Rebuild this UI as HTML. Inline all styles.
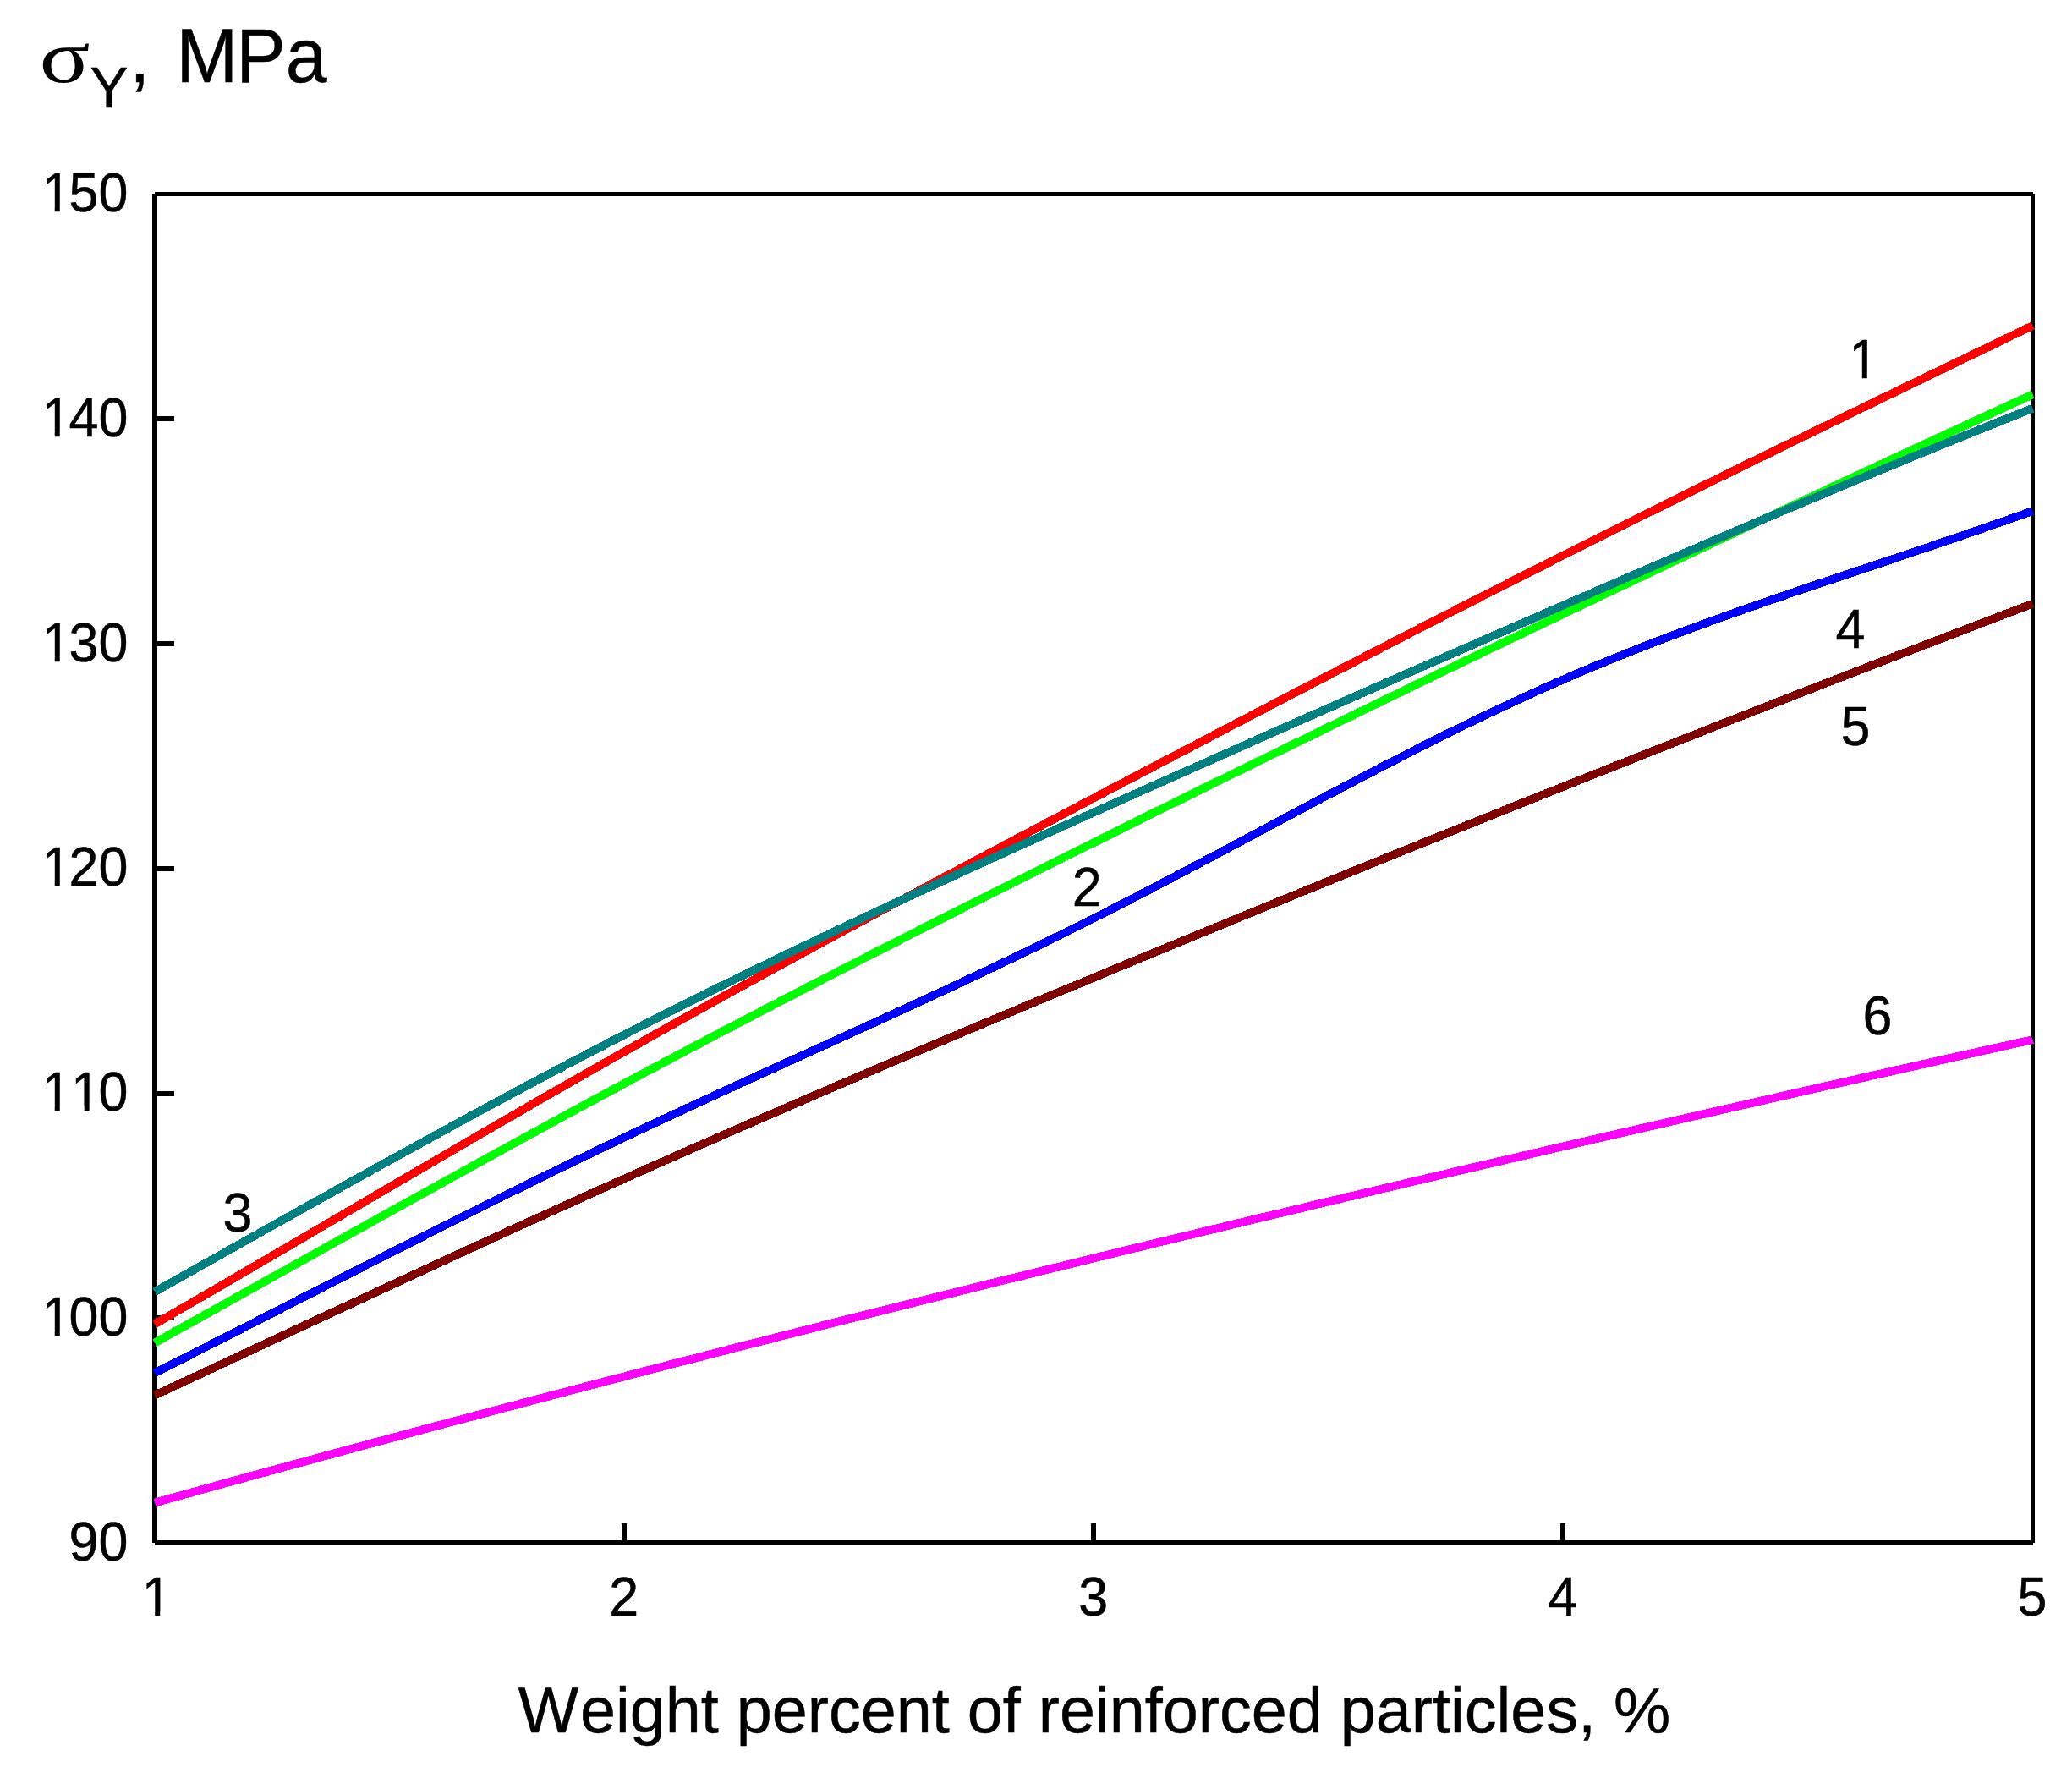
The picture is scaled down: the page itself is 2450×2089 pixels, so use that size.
<!DOCTYPE html>
<html lang="en">
<head>
<meta charset="utf-8">
<title>Yield stress vs weight percent of reinforced particles</title>
<style>
html,body{margin:0;padding:0;background:#fff;}
body{width:2450px;height:2089px;overflow:hidden;}
svg{display:block;}
text{font-family:"Liberation Sans",sans-serif;fill:#000;stroke:#000;stroke-width:0.5px;white-space:pre;font-kerning:none;}
.sym{font-family:"Liberation Serif",serif;stroke:none;}
.cv path{fill:none;stroke-width:9.7;stroke-linecap:butt;stroke-linejoin:round;}
</style>
</head>
<body>
<svg width="2450" height="2089" viewBox="0 0 2450 2089">
<rect x="0" y="0" width="2450" height="2089" fill="#ffffff"/>
<g fill="#000" shape-rendering="crispEdges">
<rect x="180" y="229" width="6" height="1595"/>
<rect x="2401" y="229" width="5" height="1595"/>
<rect x="183" y="227" width="2221" height="5"/>
<rect x="183" y="1821" width="2221" height="6"/>
<rect x="183" y="1555" width="23" height="6"/>
<rect x="183" y="1290" width="23" height="6"/>
<rect x="183" y="1024" width="23" height="6"/>
<rect x="183" y="758" width="23" height="6"/>
<rect x="183" y="492" width="23" height="6"/>
<rect x="735" y="1801" width="6" height="22"/>
<rect x="1290" y="1801" width="6" height="22"/>
<rect x="1845" y="1801" width="6" height="22"/>
</g>
<g class="cv" shape-rendering="crispEdges">
<path stroke="#ff0000" d="M183.0 1565.4 L195.0 1558.5 L207.0 1551.5 L219.0 1544.6 L231.0 1537.6 L243.0 1530.7 L255.0 1523.7 L267.0 1516.7 L279.0 1509.7 L291.0 1502.7 L303.0 1495.7 L315.0 1488.7 L327.0 1481.7 L339.0 1474.7 L351.0 1467.7 L363.0 1460.7 L375.0 1453.6 L387.0 1446.6 L399.0 1439.6 L411.0 1432.6 L423.0 1425.6 L435.0 1418.5 L447.0 1411.5 L459.0 1404.5 L471.0 1397.5 L483.0 1390.5 L495.0 1383.5 L507.0 1376.5 L519.0 1369.5 L531.0 1362.5 L543.0 1355.5 L555.0 1348.5 L567.0 1341.5 L579.0 1334.6 L591.0 1327.6 L603.0 1320.7 L615.0 1313.8 L627.0 1306.8 L639.0 1299.9 L651.0 1293.0 L663.0 1286.2 L675.0 1279.3 L687.0 1272.4 L699.0 1265.6 L711.0 1258.8 L723.0 1252.0 L735.0 1245.2 L747.0 1238.4 L759.0 1231.7 L771.0 1224.9 L783.0 1218.2 L795.0 1211.5 L807.0 1204.8 L819.0 1198.2 L831.0 1191.5 L843.0 1184.9 L855.0 1178.2 L867.0 1171.6 L879.0 1165.0 L891.0 1158.5 L903.0 1151.9 L915.0 1145.3 L927.0 1138.8 L939.0 1132.3 L951.0 1125.8 L963.0 1119.3 L975.0 1112.8 L987.0 1106.3 L999.0 1099.8 L1011.0 1093.4 L1023.0 1086.9 L1035.0 1080.5 L1047.0 1074.0 L1059.0 1067.6 L1071.0 1061.2 L1083.0 1054.8 L1095.0 1048.4 L1107.0 1042.0 L1119.0 1035.6 L1131.0 1029.3 L1143.0 1022.9 L1155.0 1016.5 L1167.0 1010.2 L1179.0 1003.8 L1191.0 997.5 L1203.0 991.1 L1215.0 984.8 L1227.0 978.5 L1239.0 972.1 L1251.0 965.8 L1263.0 959.5 L1275.0 953.2 L1287.0 946.9 L1299.0 940.6 L1311.0 934.2 L1323.0 927.9 L1335.0 921.6 L1347.0 915.3 L1359.0 909.0 L1371.0 902.7 L1383.0 896.4 L1395.0 890.2 L1407.0 883.9 L1419.0 877.6 L1431.0 871.3 L1443.0 865.0 L1455.0 858.8 L1467.0 852.5 L1479.0 846.2 L1491.0 840.0 L1503.0 833.7 L1515.0 827.5 L1527.0 821.2 L1539.0 815.0 L1551.0 808.8 L1563.0 802.5 L1575.0 796.3 L1587.0 790.1 L1599.0 783.9 L1611.0 777.7 L1623.0 771.5 L1635.0 765.3 L1647.0 759.1 L1659.0 753.0 L1671.0 746.8 L1683.0 740.6 L1695.0 734.5 L1707.0 728.3 L1719.0 722.2 L1731.0 716.1 L1743.0 710.0 L1755.0 703.8 L1767.0 697.7 L1779.0 691.7 L1791.0 685.6 L1803.0 679.5 L1815.0 673.4 L1827.0 667.4 L1839.0 661.3 L1851.0 655.3 L1863.0 649.3 L1875.0 643.2 L1887.0 637.2 L1899.0 631.2 L1911.0 625.2 L1923.0 619.3 L1935.0 613.3 L1947.0 607.3 L1959.0 601.4 L1971.0 595.4 L1983.0 589.5 L1995.0 583.6 L2007.0 577.6 L2019.0 571.7 L2031.0 565.8 L2043.0 559.9 L2055.0 554.0 L2067.0 548.1 L2079.0 542.3 L2091.0 536.4 L2103.0 530.5 L2115.0 524.7 L2127.0 518.8 L2139.0 512.9 L2151.0 507.1 L2163.0 501.3 L2175.0 495.4 L2187.0 489.6 L2199.0 483.8 L2211.0 477.9 L2223.0 472.1 L2235.0 466.3 L2247.0 460.5 L2259.0 454.7 L2271.0 448.9 L2283.0 443.1 L2295.0 437.3 L2307.0 431.5 L2319.0 425.7 L2331.0 419.9 L2343.0 414.2 L2355.0 408.4 L2367.0 402.6 L2379.0 396.8 L2391.0 391.0 L2403.0 385.3 L2403.5 385.0"/>
<path stroke="#00ff00" d="M183.0 1587.5 L195.0 1580.8 L207.0 1574.1 L219.0 1567.5 L231.0 1560.8 L243.0 1554.1 L255.0 1547.5 L267.0 1540.8 L279.0 1534.1 L291.0 1527.4 L303.0 1520.7 L315.0 1514.0 L327.0 1507.3 L339.0 1500.7 L351.0 1494.0 L363.0 1487.3 L375.0 1480.6 L387.0 1473.9 L399.0 1467.2 L411.0 1460.5 L423.0 1453.9 L435.0 1447.2 L447.0 1440.5 L459.0 1433.9 L471.0 1427.2 L483.0 1420.5 L495.0 1413.9 L507.0 1407.3 L519.0 1400.6 L531.0 1394.0 L543.0 1387.4 L555.0 1380.7 L567.0 1374.1 L579.0 1367.5 L591.0 1361.0 L603.0 1354.4 L615.0 1347.8 L627.0 1341.2 L639.0 1334.7 L651.0 1328.2 L663.0 1321.6 L675.0 1315.1 L687.0 1308.6 L699.0 1302.1 L711.0 1295.7 L723.0 1289.2 L735.0 1282.8 L747.0 1276.3 L759.0 1269.9 L771.0 1263.5 L783.0 1257.2 L795.0 1250.8 L807.0 1244.4 L819.0 1238.1 L831.0 1231.8 L843.0 1225.4 L855.0 1219.1 L867.0 1212.9 L879.0 1206.6 L891.0 1200.3 L903.0 1194.1 L915.0 1187.8 L927.0 1181.6 L939.0 1175.4 L951.0 1169.2 L963.0 1163.0 L975.0 1156.8 L987.0 1150.7 L999.0 1144.5 L1011.0 1138.3 L1023.0 1132.2 L1035.0 1126.1 L1047.0 1120.0 L1059.0 1113.9 L1071.0 1107.8 L1083.0 1101.7 L1095.0 1095.6 L1107.0 1089.5 L1119.0 1083.5 L1131.0 1077.4 L1143.0 1071.3 L1155.0 1065.3 L1167.0 1059.3 L1179.0 1053.3 L1191.0 1047.2 L1203.0 1041.2 L1215.0 1035.2 L1227.0 1029.2 L1239.0 1023.2 L1251.0 1017.3 L1263.0 1011.3 L1275.0 1005.3 L1287.0 999.3 L1299.0 993.4 L1311.0 987.4 L1323.0 981.5 L1335.0 975.5 L1347.0 969.6 L1359.0 963.6 L1371.0 957.7 L1383.0 951.8 L1395.0 945.9 L1407.0 939.9 L1419.0 934.0 L1431.0 928.1 L1443.0 922.2 L1455.0 916.3 L1467.0 910.4 L1479.0 904.6 L1491.0 898.7 L1503.0 892.8 L1515.0 886.9 L1527.0 881.1 L1539.0 875.2 L1551.0 869.4 L1563.0 863.5 L1575.0 857.7 L1587.0 851.8 L1599.0 846.0 L1611.0 840.2 L1623.0 834.3 L1635.0 828.5 L1647.0 822.7 L1659.0 816.9 L1671.0 811.1 L1683.0 805.3 L1695.0 799.5 L1707.0 793.7 L1719.0 787.9 L1731.0 782.1 L1743.0 776.4 L1755.0 770.6 L1767.0 764.8 L1779.0 759.1 L1791.0 753.3 L1803.0 747.6 L1815.0 741.8 L1827.0 736.1 L1839.0 730.4 L1851.0 724.6 L1863.0 718.9 L1875.0 713.2 L1887.0 707.5 L1899.0 701.8 L1911.0 696.1 L1923.0 690.4 L1935.0 684.7 L1947.0 679.0 L1959.0 673.3 L1971.0 667.6 L1983.0 661.9 L1995.0 656.3 L2007.0 650.6 L2019.0 645.0 L2031.0 639.3 L2043.0 633.7 L2055.0 628.0 L2067.0 622.4 L2079.0 616.7 L2091.0 611.1 L2103.0 605.5 L2115.0 599.9 L2127.0 594.3 L2139.0 588.7 L2151.0 583.1 L2163.0 577.5 L2175.0 571.9 L2187.0 566.3 L2199.0 560.7 L2211.0 555.1 L2223.0 549.6 L2235.0 544.0 L2247.0 538.4 L2259.0 532.9 L2271.0 527.3 L2283.0 521.8 L2295.0 516.2 L2307.0 510.7 L2319.0 505.2 L2331.0 499.6 L2343.0 494.1 L2355.0 488.6 L2367.0 483.1 L2379.0 477.6 L2391.0 472.1 L2403.0 466.6 L2403.5 466.4"/>
<path stroke="#008080" d="M183.0 1527.2 L195.0 1520.5 L207.0 1513.7 L219.0 1507.0 L231.0 1500.3 L243.0 1493.5 L255.0 1486.8 L267.0 1480.0 L279.0 1473.3 L291.0 1466.5 L303.0 1459.8 L315.0 1453.1 L327.0 1446.3 L339.0 1439.6 L351.0 1432.9 L363.0 1426.2 L375.0 1419.5 L387.0 1412.8 L399.0 1406.1 L411.0 1399.4 L423.0 1392.7 L435.0 1386.1 L447.0 1379.4 L459.0 1372.8 L471.0 1366.2 L483.0 1359.6 L495.0 1353.0 L507.0 1346.4 L519.0 1339.8 L531.0 1333.3 L543.0 1326.7 L555.0 1320.2 L567.0 1313.7 L579.0 1307.2 L591.0 1300.8 L603.0 1294.3 L615.0 1287.9 L627.0 1281.5 L639.0 1275.1 L651.0 1268.8 L663.0 1262.4 L675.0 1256.1 L687.0 1249.8 L699.0 1243.6 L711.0 1237.4 L723.0 1231.1 L735.0 1225.0 L747.0 1218.8 L759.0 1212.7 L771.0 1206.6 L783.0 1200.5 L795.0 1194.5 L807.0 1188.5 L819.0 1182.5 L831.0 1176.5 L843.0 1170.6 L855.0 1164.7 L867.0 1158.8 L879.0 1152.9 L891.0 1147.1 L903.0 1141.2 L915.0 1135.4 L927.0 1129.6 L939.0 1123.9 L951.0 1118.1 L963.0 1112.4 L975.0 1106.7 L987.0 1101.0 L999.0 1095.3 L1011.0 1089.7 L1023.0 1084.1 L1035.0 1078.4 L1047.0 1072.8 L1059.0 1067.2 L1071.0 1061.7 L1083.0 1056.1 L1095.0 1050.6 L1107.0 1045.0 L1119.0 1039.5 L1131.0 1034.0 L1143.0 1028.5 L1155.0 1023.0 L1167.0 1017.6 L1179.0 1012.1 L1191.0 1006.6 L1203.0 1001.2 L1215.0 995.8 L1227.0 990.3 L1239.0 984.9 L1251.0 979.5 L1263.0 974.1 L1275.0 968.7 L1287.0 963.3 L1299.0 957.9 L1311.0 952.5 L1323.0 947.1 L1335.0 941.8 L1347.0 936.4 L1359.0 931.0 L1371.0 925.7 L1383.0 920.3 L1395.0 915.0 L1407.0 909.6 L1419.0 904.3 L1431.0 899.0 L1443.0 893.6 L1455.0 888.3 L1467.0 883.0 L1479.0 877.6 L1491.0 872.3 L1503.0 867.0 L1515.0 861.7 L1527.0 856.4 L1539.0 851.1 L1551.0 845.8 L1563.0 840.5 L1575.0 835.2 L1587.0 830.0 L1599.0 824.7 L1611.0 819.4 L1623.0 814.1 L1635.0 808.9 L1647.0 803.6 L1659.0 798.3 L1671.0 793.1 L1683.0 787.8 L1695.0 782.6 L1707.0 777.3 L1719.0 772.1 L1731.0 766.8 L1743.0 761.6 L1755.0 756.4 L1767.0 751.1 L1779.0 745.9 L1791.0 740.7 L1803.0 735.5 L1815.0 730.3 L1827.0 725.0 L1839.0 719.8 L1851.0 714.6 L1863.0 709.4 L1875.0 704.2 L1887.0 699.0 L1899.0 693.8 L1911.0 688.6 L1923.0 683.4 L1935.0 678.2 L1947.0 673.1 L1959.0 667.9 L1971.0 662.7 L1983.0 657.6 L1995.0 652.4 L2007.0 647.3 L2019.0 642.1 L2031.0 637.0 L2043.0 631.8 L2055.0 626.7 L2067.0 621.6 L2079.0 616.5 L2091.0 611.4 L2103.0 606.3 L2115.0 601.3 L2127.0 596.2 L2139.0 591.1 L2151.0 586.1 L2163.0 581.0 L2175.0 576.0 L2187.0 571.0 L2199.0 566.0 L2211.0 561.0 L2223.0 556.0 L2235.0 551.0 L2247.0 546.1 L2259.0 541.1 L2271.0 536.2 L2283.0 531.3 L2295.0 526.4 L2307.0 521.5 L2319.0 516.6 L2331.0 511.8 L2343.0 506.9 L2355.0 502.1 L2367.0 497.3 L2379.0 492.5 L2391.0 487.7 L2403.0 482.9 L2403.5 482.7"/>
<path stroke="#0000ff" d="M183.0 1623.0 L195.0 1617.0 L207.0 1610.9 L219.0 1604.9 L231.0 1598.8 L243.0 1592.7 L255.0 1586.6 L267.0 1580.5 L279.0 1574.4 L291.0 1568.3 L303.0 1562.2 L315.0 1556.0 L327.0 1549.9 L339.0 1543.8 L351.0 1537.7 L363.0 1531.5 L375.0 1525.4 L387.0 1519.3 L399.0 1513.2 L411.0 1507.0 L423.0 1500.9 L435.0 1494.8 L447.0 1488.7 L459.0 1482.6 L471.0 1476.5 L483.0 1470.4 L495.0 1464.4 L507.0 1458.3 L519.0 1452.3 L531.0 1446.2 L543.0 1440.2 L555.0 1434.2 L567.0 1428.2 L579.0 1422.2 L591.0 1416.2 L603.0 1410.3 L615.0 1404.4 L627.0 1398.4 L639.0 1392.5 L651.0 1386.7 L663.0 1380.8 L675.0 1375.0 L687.0 1369.2 L699.0 1363.4 L711.0 1357.6 L723.0 1351.9 L735.0 1346.2 L747.0 1340.5 L759.0 1334.8 L771.0 1329.2 L783.0 1323.6 L795.0 1318.0 L807.0 1312.5 L819.0 1306.9 L831.0 1301.4 L843.0 1295.9 L855.0 1290.4 L867.0 1284.9 L879.0 1279.4 L891.0 1273.9 L903.0 1268.4 L915.0 1263.0 L927.0 1257.5 L939.0 1252.1 L951.0 1246.7 L963.0 1241.2 L975.0 1235.8 L987.0 1230.3 L999.0 1224.9 L1011.0 1219.4 L1023.0 1213.9 L1035.0 1208.5 L1047.0 1203.0 L1059.0 1197.5 L1071.0 1192.0 L1083.0 1186.4 L1095.0 1180.9 L1107.0 1175.3 L1119.0 1169.8 L1131.0 1164.2 L1143.0 1158.5 L1155.0 1152.9 L1167.0 1147.2 L1179.0 1141.5 L1191.0 1135.8 L1203.0 1130.0 L1215.0 1124.3 L1227.0 1118.4 L1239.0 1112.6 L1251.0 1106.7 L1263.0 1100.8 L1275.0 1094.8 L1287.0 1088.8 L1299.0 1082.7 L1311.0 1076.7 L1323.0 1070.5 L1335.0 1064.4 L1347.0 1058.2 L1359.0 1051.9 L1371.0 1045.7 L1383.0 1039.4 L1395.0 1033.1 L1407.0 1026.8 L1419.0 1020.4 L1431.0 1014.0 L1443.0 1007.7 L1455.0 1001.3 L1467.0 994.9 L1479.0 988.5 L1491.0 982.1 L1503.0 975.7 L1515.0 969.3 L1527.0 962.9 L1539.0 956.6 L1551.0 950.2 L1563.0 943.8 L1575.0 937.5 L1587.0 931.2 L1599.0 924.9 L1611.0 918.6 L1623.0 912.4 L1635.0 906.1 L1647.0 900.0 L1659.0 893.8 L1671.0 887.7 L1683.0 881.6 L1695.0 875.6 L1707.0 869.6 L1719.0 863.7 L1731.0 857.8 L1743.0 851.9 L1755.0 846.2 L1767.0 840.4 L1779.0 834.8 L1791.0 829.2 L1803.0 823.7 L1815.0 818.2 L1827.0 812.8 L1839.0 807.5 L1851.0 802.3 L1863.0 797.1 L1875.0 792.0 L1887.0 787.0 L1899.0 782.1 L1911.0 777.2 L1923.0 772.4 L1935.0 767.6 L1947.0 762.9 L1959.0 758.3 L1971.0 753.7 L1983.0 749.2 L1995.0 744.7 L2007.0 740.3 L2019.0 735.9 L2031.0 731.6 L2043.0 727.3 L2055.0 723.0 L2067.0 718.8 L2079.0 714.6 L2091.0 710.5 L2103.0 706.3 L2115.0 702.2 L2127.0 698.1 L2139.0 694.0 L2151.0 690.0 L2163.0 686.0 L2175.0 681.9 L2187.0 677.9 L2199.0 673.9 L2211.0 669.9 L2223.0 665.9 L2235.0 661.9 L2247.0 657.8 L2259.0 653.8 L2271.0 649.8 L2283.0 645.8 L2295.0 641.7 L2307.0 637.6 L2319.0 633.6 L2331.0 629.4 L2343.0 625.3 L2355.0 621.1 L2367.0 617.0 L2379.0 612.7 L2391.0 608.5 L2403.0 604.2 L2403.5 604.0"/>
<path stroke="#800000" d="M183.0 1649.5 L195.0 1643.9 L207.0 1638.3 L219.0 1632.7 L231.0 1627.2 L243.0 1621.6 L255.0 1616.0 L267.0 1610.4 L279.0 1604.8 L291.0 1599.2 L303.0 1593.6 L315.0 1588.0 L327.0 1582.4 L339.0 1576.8 L351.0 1571.2 L363.0 1565.6 L375.0 1560.0 L387.0 1554.4 L399.0 1548.8 L411.0 1543.3 L423.0 1537.7 L435.0 1532.1 L447.0 1526.5 L459.0 1521.0 L471.0 1515.4 L483.0 1509.9 L495.0 1504.3 L507.0 1498.8 L519.0 1493.2 L531.0 1487.7 L543.0 1482.2 L555.0 1476.7 L567.0 1471.2 L579.0 1465.7 L591.0 1460.2 L603.0 1454.7 L615.0 1449.2 L627.0 1443.7 L639.0 1438.3 L651.0 1432.8 L663.0 1427.4 L675.0 1422.0 L687.0 1416.5 L699.0 1411.1 L711.0 1405.7 L723.0 1400.4 L735.0 1395.0 L747.0 1389.6 L759.0 1384.3 L771.0 1378.9 L783.0 1373.6 L795.0 1368.3 L807.0 1363.0 L819.0 1357.7 L831.0 1352.4 L843.0 1347.2 L855.0 1341.9 L867.0 1336.7 L879.0 1331.4 L891.0 1326.2 L903.0 1321.0 L915.0 1315.8 L927.0 1310.6 L939.0 1305.4 L951.0 1300.2 L963.0 1295.0 L975.0 1289.9 L987.0 1284.7 L999.0 1279.6 L1011.0 1274.5 L1023.0 1269.3 L1035.0 1264.2 L1047.0 1259.1 L1059.0 1254.0 L1071.0 1248.9 L1083.0 1243.8 L1095.0 1238.8 L1107.0 1233.7 L1119.0 1228.6 L1131.0 1223.6 L1143.0 1218.5 L1155.0 1213.5 L1167.0 1208.4 L1179.0 1203.4 L1191.0 1198.4 L1203.0 1193.4 L1215.0 1188.3 L1227.0 1183.3 L1239.0 1178.3 L1251.0 1173.3 L1263.0 1168.3 L1275.0 1163.4 L1287.0 1158.4 L1299.0 1153.4 L1311.0 1148.4 L1323.0 1143.4 L1335.0 1138.5 L1347.0 1133.5 L1359.0 1128.6 L1371.0 1123.6 L1383.0 1118.7 L1395.0 1113.7 L1407.0 1108.8 L1419.0 1103.8 L1431.0 1098.9 L1443.0 1094.0 L1455.0 1089.1 L1467.0 1084.1 L1479.0 1079.2 L1491.0 1074.3 L1503.0 1069.4 L1515.0 1064.5 L1527.0 1059.6 L1539.0 1054.7 L1551.0 1049.8 L1563.0 1044.9 L1575.0 1040.1 L1587.0 1035.2 L1599.0 1030.3 L1611.0 1025.5 L1623.0 1020.6 L1635.0 1015.7 L1647.0 1010.9 L1659.0 1006.0 L1671.0 1001.2 L1683.0 996.3 L1695.0 991.5 L1707.0 986.7 L1719.0 981.8 L1731.0 977.0 L1743.0 972.2 L1755.0 967.4 L1767.0 962.6 L1779.0 957.7 L1791.0 952.9 L1803.0 948.1 L1815.0 943.3 L1827.0 938.5 L1839.0 933.8 L1851.0 929.0 L1863.0 924.2 L1875.0 919.4 L1887.0 914.6 L1899.0 909.9 L1911.0 905.1 L1923.0 900.4 L1935.0 895.6 L1947.0 890.8 L1959.0 886.1 L1971.0 881.4 L1983.0 876.6 L1995.0 871.9 L2007.0 867.2 L2019.0 862.4 L2031.0 857.7 L2043.0 853.0 L2055.0 848.3 L2067.0 843.6 L2079.0 838.9 L2091.0 834.2 L2103.0 829.5 L2115.0 824.8 L2127.0 820.1 L2139.0 815.5 L2151.0 810.8 L2163.0 806.1 L2175.0 801.5 L2187.0 796.8 L2199.0 792.2 L2211.0 787.5 L2223.0 782.9 L2235.0 778.2 L2247.0 773.6 L2259.0 769.0 L2271.0 764.4 L2283.0 759.8 L2295.0 755.2 L2307.0 750.6 L2319.0 746.0 L2331.0 741.4 L2343.0 736.8 L2355.0 732.2 L2367.0 727.6 L2379.0 723.1 L2391.0 718.5 L2403.0 714.0 L2403.5 713.8"/>
<path stroke="#ff00ff" d="M183.0 1776.6 L195.0 1773.2 L207.0 1769.9 L219.0 1766.6 L231.0 1763.3 L243.0 1759.9 L255.0 1756.6 L267.0 1753.3 L279.0 1750.0 L291.0 1746.7 L303.0 1743.4 L315.0 1740.2 L327.0 1736.9 L339.0 1733.6 L351.0 1730.3 L363.0 1727.1 L375.0 1723.8 L387.0 1720.5 L399.0 1717.3 L411.0 1714.0 L423.0 1710.8 L435.0 1707.6 L447.0 1704.3 L459.0 1701.1 L471.0 1697.9 L483.0 1694.7 L495.0 1691.5 L507.0 1688.2 L519.0 1685.0 L531.0 1681.8 L543.0 1678.7 L555.0 1675.5 L567.0 1672.3 L579.0 1669.1 L591.0 1665.9 L603.0 1662.8 L615.0 1659.6 L627.0 1656.4 L639.0 1653.3 L651.0 1650.1 L663.0 1647.0 L675.0 1643.8 L687.0 1640.7 L699.0 1637.5 L711.0 1634.4 L723.0 1631.3 L735.0 1628.2 L747.0 1625.1 L759.0 1621.9 L771.0 1618.8 L783.0 1615.7 L795.0 1612.6 L807.0 1609.5 L819.0 1606.4 L831.0 1603.4 L843.0 1600.3 L855.0 1597.2 L867.0 1594.1 L879.0 1591.0 L891.0 1588.0 L903.0 1584.9 L915.0 1581.9 L927.0 1578.8 L939.0 1575.8 L951.0 1572.7 L963.0 1569.7 L975.0 1566.6 L987.0 1563.6 L999.0 1560.6 L1011.0 1557.6 L1023.0 1554.5 L1035.0 1551.5 L1047.0 1548.5 L1059.0 1545.5 L1071.0 1542.5 L1083.0 1539.5 L1095.0 1536.5 L1107.0 1533.5 L1119.0 1530.5 L1131.0 1527.5 L1143.0 1524.5 L1155.0 1521.6 L1167.0 1518.6 L1179.0 1515.6 L1191.0 1512.6 L1203.0 1509.7 L1215.0 1506.7 L1227.0 1503.8 L1239.0 1500.8 L1251.0 1497.9 L1263.0 1494.9 L1275.0 1492.0 L1287.0 1489.0 L1299.0 1486.1 L1311.0 1483.2 L1323.0 1480.2 L1335.0 1477.3 L1347.0 1474.4 L1359.0 1471.5 L1371.0 1468.6 L1383.0 1465.7 L1395.0 1462.8 L1407.0 1459.9 L1419.0 1457.0 L1431.0 1454.1 L1443.0 1451.2 L1455.0 1448.3 L1467.0 1445.4 L1479.0 1442.5 L1491.0 1439.6 L1503.0 1436.8 L1515.0 1433.9 L1527.0 1431.0 L1539.0 1428.2 L1551.0 1425.3 L1563.0 1422.4 L1575.0 1419.6 L1587.0 1416.7 L1599.0 1413.9 L1611.0 1411.0 L1623.0 1408.2 L1635.0 1405.3 L1647.0 1402.5 L1659.0 1399.7 L1671.0 1396.8 L1683.0 1394.0 L1695.0 1391.2 L1707.0 1388.4 L1719.0 1385.5 L1731.0 1382.7 L1743.0 1379.9 L1755.0 1377.1 L1767.0 1374.3 L1779.0 1371.5 L1791.0 1368.7 L1803.0 1365.9 L1815.0 1363.1 L1827.0 1360.3 L1839.0 1357.5 L1851.0 1354.7 L1863.0 1351.9 L1875.0 1349.2 L1887.0 1346.4 L1899.0 1343.6 L1911.0 1340.8 L1923.0 1338.1 L1935.0 1335.3 L1947.0 1332.5 L1959.0 1329.8 L1971.0 1327.0 L1983.0 1324.2 L1995.0 1321.5 L2007.0 1318.7 L2019.0 1316.0 L2031.0 1313.2 L2043.0 1310.5 L2055.0 1307.8 L2067.0 1305.0 L2079.0 1302.3 L2091.0 1299.5 L2103.0 1296.8 L2115.0 1294.1 L2127.0 1291.4 L2139.0 1288.6 L2151.0 1285.9 L2163.0 1283.2 L2175.0 1280.5 L2187.0 1277.8 L2199.0 1275.0 L2211.0 1272.3 L2223.0 1269.6 L2235.0 1266.9 L2247.0 1264.2 L2259.0 1261.5 L2271.0 1258.8 L2283.0 1256.1 L2295.0 1253.4 L2307.0 1250.7 L2319.0 1248.0 L2331.0 1245.3 L2343.0 1242.7 L2355.0 1240.0 L2367.0 1237.3 L2379.0 1234.6 L2391.0 1231.9 L2403.0 1229.3 L2403.5 1229.1"/>
</g>
<text transform="translate(81.50 1844.50) scale(1 1.040)" font-size="62.8">90</text>
<text transform="translate(46.57 1578.75) scale(1 1.040)" font-size="62.8" dx="2.6 -2.6 0">100</text>
<text transform="translate(46.57 1313.00) scale(1 1.040)" font-size="62.8" dx="2.6 0 -2.6">110</text>
<text transform="translate(46.57 1047.25) scale(1 1.040)" font-size="62.8" dx="2.6 -2.6 0">120</text>
<text transform="translate(46.57 781.50) scale(1 1.040)" font-size="62.8" dx="2.6 -2.6 0">130</text>
<text transform="translate(46.57 515.75) scale(1 1.040)" font-size="62.8" dx="2.6 -2.6 0">140</text>
<text transform="translate(46.57 250.00) scale(1 1.040)" font-size="62.8" dx="2.6 -2.6 0">150</text>
<text transform="translate(165.04 1910.00) scale(1 1.040)" font-size="62.8" dx="2.6">1</text>
<text transform="translate(720.16 1910.00) scale(1 1.040)" font-size="62.8">2</text>
<text transform="translate(1275.29 1910.00) scale(1 1.040)" font-size="62.8">3</text>
<text transform="translate(1830.41 1910.00) scale(1 1.040)" font-size="62.8">4</text>
<text transform="translate(2385.54 1910.00) scale(1 1.040)" font-size="62.8">5</text>
<text transform="translate(2183.60 447.00) scale(1 1.040)" font-size="62.8" dx="2.6">1</text>
<text transform="translate(1267.70 1071.00) scale(1 1.040)" font-size="62.8">2</text>
<text transform="translate(263.50 1456.40) scale(1 1.040)" font-size="62.8">3</text>
<text transform="translate(2170.50 766.00) scale(1 1.040)" font-size="62.8">4</text>
<text transform="translate(2176.50 881.00) scale(1 1.040)" font-size="62.8">5</text>
<text transform="translate(2202.50 1223.40) scale(1 1.040)" font-size="62.8">6</text>
<g fill="#fff">
<rect x="52.45" y="1573.27" width="12.26" height="7.88"/>
<rect x="70.76" y="1573.27" width="12.02" height="7.88"/>
<rect x="52.45" y="1307.52" width="12.26" height="7.88"/>
<rect x="70.76" y="1307.52" width="12.02" height="7.88"/>
<rect x="87.38" y="1307.52" width="12.26" height="7.88"/>
<rect x="105.69" y="1307.52" width="12.02" height="7.88"/>
<rect x="52.45" y="1041.77" width="12.26" height="7.88"/>
<rect x="70.76" y="1041.77" width="12.02" height="7.88"/>
<rect x="52.45" y="776.02" width="12.26" height="7.88"/>
<rect x="70.76" y="776.02" width="12.02" height="7.88"/>
<rect x="52.45" y="510.27" width="12.26" height="7.88"/>
<rect x="70.76" y="510.27" width="12.02" height="7.88"/>
<rect x="52.45" y="244.52" width="12.26" height="7.88"/>
<rect x="70.76" y="244.52" width="12.02" height="7.88"/>
<rect x="170.92" y="1904.52" width="12.26" height="7.88"/>
<rect x="189.23" y="1904.52" width="12.02" height="7.88"/>
<rect x="2189.48" y="441.52" width="12.26" height="7.88"/>
<rect x="2207.79" y="441.52" width="12.02" height="7.88"/>
</g>
<text class="sym" transform="translate(46.5 97) scale(1.255 1)" font-size="88.8">σ</text>
<text transform="translate(106.6 127.4) scale(1 1.02)" font-size="67.3">Y</text>
<text transform="translate(153 97) scale(1 1.04)" font-size="87.7" dx="0 6.5 0 -2">, MPa</text>
<text x="612.7" y="2047.9" font-size="75.55" dx="0 2">Weight percent of reinforced particles, %</text>
</svg>
</body>
</html>
